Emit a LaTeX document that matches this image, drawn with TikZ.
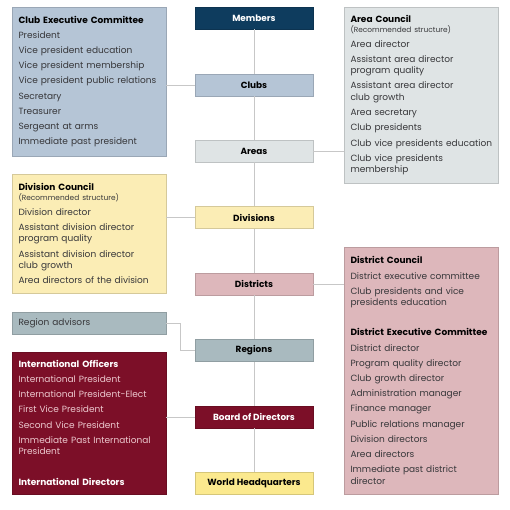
\documentclass[tikz,border=0pt]{standalone}
\usepackage{fontspec}
\setmainfont{Poppins}
\usepackage{tikz}

\definecolor{navy}{RGB}{14,60,94}
\definecolor{steel}{RGB}{181,197,214}
\definecolor{mist}{RGB}{223,228,229}
\definecolor{cream}{RGB}{251,237,181}
\definecolor{butter}{RGB}{251,233,142}
\definecolor{rose}{RGB}{221,183,187}
\definecolor{slate}{RGB}{169,186,191}
\definecolor{wine}{RGB}{124,15,40}
\definecolor{ink}{RGB}{55,55,58}
\definecolor{blush}{RGB}{236,200,206}

\begin{document}
\begin{tikzpicture}[x=1pt, y=-1pt,
    level/.style={draw=#1!85!black, fill=#1, line width=0.5pt, minimum width=118pt,
        minimum height=22pt, inner sep=0pt, font=\fontsize{8.9}{10}\selectfont\bfseries},
    panel/.style={draw=#1!85!black, fill=#1, line width=0.5pt, minimum width=154pt,
        text width=141pt, inner xsep=6.5pt, inner ysep=0pt, align=left, text=ink,
        font=\fontsize{9}{11.5}\selectfont},
    link/.style={draw=black!22, line width=0.8pt}]

    \useasboundingbox (0,0) rectangle (509,510);

    % Levels down the middle
    \node[level=navy, text=white] (mem) at (254,18) {Members};
    \node[level=steel] (clubs) at (254,85) {Clubs};
    \node[level=mist] (areas) at (254,151) {Areas};
    \node[level=cream] (div) at (254,217.5) {Divisions};
    \node[level=rose] (dist) at (254,284) {Districts};
    \node[level=slate] (reg) at (254,350.5) {Regions};
    \node[level=wine, text=white] (bod) at (254,417) {Board of Directors};
    \node[level=butter] (whq) at (254,483) {World Headquarters};

    % Spine
    \foreach \a/\b in {mem/clubs, clubs/areas, areas/div, div/dist, dist/reg, reg/bod, bod/whq}
        \draw[link] (\a) -- (\b);

    % Club executive committee
    \node[panel=steel, minimum height=149pt] (cec) at (89,81.5) {%
        \textbf{\color{black}Club Executive Committee}\\[3.7pt]
        President\\[3.7pt]
        Vice president education\\[3.7pt]
        Vice president membership\\[3.7pt]
        Vice president public relations\\[3.7pt]
        Secretary\\[3.7pt]
        Treasurer\\[3.7pt]
        Sergeant at arms\\[3.7pt]
        Immediate past president};

    % Area council
    \node[panel=mist, minimum height=176pt] (ac) at (421,95) {%
        \textbf{\color{black}Area Council}\\[-1.5pt]
        {\fontsize{7.4}{8}\selectfont(Recommended structure)}\\[3.5pt]
        Area director\\[3.7pt]
        Assistant area director\\
        program quality\\[3.7pt]
        Assistant area director\\
        club growth\\[3.7pt]
        Area secretary\\[3.7pt]
        Club presidents\\[3.7pt]
        \mbox{Club vice presidents education}\\[3.7pt]
        Club vice presidents\\
        membership};

    % Division council
    \node[panel=cream, minimum height=119pt] (dc) at (89,233.5) {%
        \textbf{\color{black}Division Council}\\[-1.5pt]
        {\fontsize{7.4}{8}\selectfont(Recommended structure)}\\[3.5pt]
        Division director\\[3.7pt]
        Assistant division director\\
        program quality\\[3.7pt]
        Assistant division director\\
        club growth\\[3.7pt]
        Area directors of the division};

    % District council
    \node[panel=rose, minimum height=247pt] (dsc) at (421,370.5) {%
        \textbf{\color{black}District Council}\\[3.7pt]
        District executive committee\\[3.7pt]
        Club presidents and vice\\
        presidents education\\[18.5pt]
        \textbf{\color{black}District Executive Committee}\\[3.7pt]
        District director\\[3.7pt]
        Program quality director\\[3.7pt]
        Club growth director\\[3.7pt]
        Administration manager\\[3.7pt]
        Finance manager\\[3.7pt]
        Public relations manager\\[3.7pt]
        Division directors\\[3.7pt]
        Area directors\\[3.7pt]
        Immediate past district\\
        director};

    % Region advisors
    \node[panel=slate, minimum height=22pt] (adv) at (89,323) {Region advisors};

    % International officers
    \node[panel=wine, minimum height=142pt, text=blush] (io) at (89,423) {%
        \textbf{\color{white}International Officers}\\[3.7pt]
        International President\\[3.7pt]
        International President-Elect\\[3.7pt]
        First Vice President\\[3.7pt]
        Second Vice President\\[3.7pt]
        Immediate Past International\\
        President\\[19.5pt]
        \textbf{\color{white}International Directors}};

    % Side links
    \draw[link] (clubs.west) -- (clubs.west -| cec.east);
    \draw[link] (areas.east) -- (areas.east -| ac.west);
    \draw[link] (div.west) -- (div.west -| dc.east);
    \draw[link] (dist.east) -- (dist.east -| dsc.west);
    \draw[link] (adv.east) -- ++(14,0) |- (reg.west);
    \draw[link] (bod.west) -- (bod.west -| io.east);

\end{tikzpicture}
\end{document}
